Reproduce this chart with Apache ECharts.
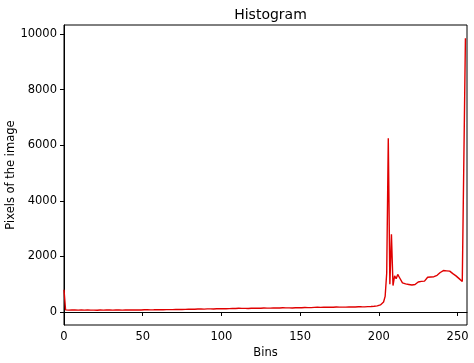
<!DOCTYPE html>
<html>
<head>
<meta charset="utf-8">
<script src="https://cdn.jsdelivr.net/npm/echarts@6/dist/echarts.min.js"></script>
<style>html,body{margin:0;padding:0;background:#fff}#c{width:474px;height:363px}</style>
</head>
<body>
<div id="c"></div>
<script>
const titleText = "Histogram";
const xLabel = "Bins";
const yLabel = "Pixels of the image";
const xTicks = [0, 50, 100, 150, 200, 250];
const yTicks = [0, 2000, 4000, 6000, 8000, 10000];
const counts = [
  800, 75, 70, 68, 72, 70, 66, 69, 71, 68,
  67, 70, 65, 68, 66, 69, 64, 67, 70, 66,
  68, 65, 67, 70, 66, 68, 72, 69, 67, 70,
  71, 68, 66, 70, 73, 69, 71, 68, 72, 70,
  74, 71, 69, 73, 76, 72, 70, 75, 78, 74,
  76, 79, 75, 78, 80, 77, 81, 78, 76, 80,
  82, 79, 83, 80, 78, 84, 81, 85, 82, 86,
  84, 88, 85, 89, 92, 88, 91, 95, 93, 97,
  100, 96, 104, 99, 102, 106, 101, 105, 108, 104,
  109, 112, 107, 111, 115, 110, 114, 118, 113, 117,
  120, 116, 122, 119, 125, 121, 118, 124, 127, 123,
  128, 132, 126, 130, 134, 129, 133, 127, 131, 135,
  132, 136, 130, 134, 138, 133, 137, 141, 136, 140,
  143, 138, 142, 146, 140, 144, 148, 143, 147, 150,
  145, 149, 153, 148, 152, 146, 150, 155, 151, 154,
  157, 152, 156, 160, 155, 158, 162, 157, 161, 165,
  172, 168, 171, 166, 170, 174, 169, 173, 167, 171,
  175, 170, 174, 178, 172, 176, 171, 175, 179, 174,
  177, 182, 176, 180, 185, 179, 183, 188, 182, 186,
  190, 185, 189, 194, 188, 196, 200, 205, 212, 220,
  235, 255, 290, 360, 560, 1400, 6250, 1000, 2800, 950,
  1300, 1200, 1350, 1250, 1300, 1050, 980, 1010, 960, 990,
  1000, 970, 1020, 990, 1040, 1080, 1050, 1100, 1130, 1110,
  1180, 1250, 1220, 1260, 1240, 1270, 1290, 1320, 1380, 1420,
  1460, 1490, 1500, 1480, 1450, 1470, 1420, 1380, 1350, 1300,
  1250, 1200, 1150, 1100, 1070, 9850
];
const bins = counts.map((_, i) => i);

const font = 'DejaVu Sans';
const chart = echarts.init(document.getElementById('c'), null, {renderer: 'canvas'});
chart.setOption({
  animation: false,
  backgroundColor: '#ffffff',
  title: {
    text: titleText, left: 265.5, top: 3, textAlign: 'center',
    textStyle: {fontFamily: font, fontSize: 14, fontWeight: 'normal', color: '#000'}
  },
  grid: {left: 64, right: 7, top: 25, bottom: 38, show: true, borderColor: '#000', borderWidth: 1, containLabel: false, outerBoundsMode: 'none'},
  xAxis: {
    type: 'value', min: 0, max: 256,
    name: xLabel, nameLocation: 'middle', nameGap: 22, nameMoveOverlap: false,
    nameTextStyle: {fontFamily: font, fontSize: 11.5, color: '#000'},
    axisLine: {show: true, lineStyle: {color: '#000', width: 1}},
    axisTick: {show: true, inside: false, length: 4, customValues: xTicks, lineStyle: {color: '#000'}},
    axisLabel: {customValues: xTicks, margin: 6, fontFamily: font, fontSize: 11.5, color: '#000', formatter: v => String(v)},
    splitLine: {show: false}
  },
  yAxis: {
    type: 'value', min: -468, max: 10324,
    name: yLabel, nameLocation: 'middle', nameGap: 47, nameRotate: 90, nameMoveOverlap: false,
    nameTextStyle: {fontFamily: font, fontSize: 11.5, color: '#000'},
    axisLine: {show: true, lineStyle: {color: '#000', width: 1}},
    axisTick: {show: true, inside: false, length: 4, customValues: yTicks, lineStyle: {color: '#000'}},
    axisLabel: {customValues: yTicks, margin: 7, fontFamily: font, fontSize: 11.5, color: '#000', formatter: v => String(v)},
    splitLine: {show: false}
  },
  series: [{
    type: 'line',
    data: bins.map((b, i) => [b, counts[i]]),
    showSymbol: false,
    symbol: 'none',
    lineStyle: {color: '#e00000', width: 1.4},
    itemStyle: {color: '#e00000'}
  }]
});
</script>
</body>
</html>
